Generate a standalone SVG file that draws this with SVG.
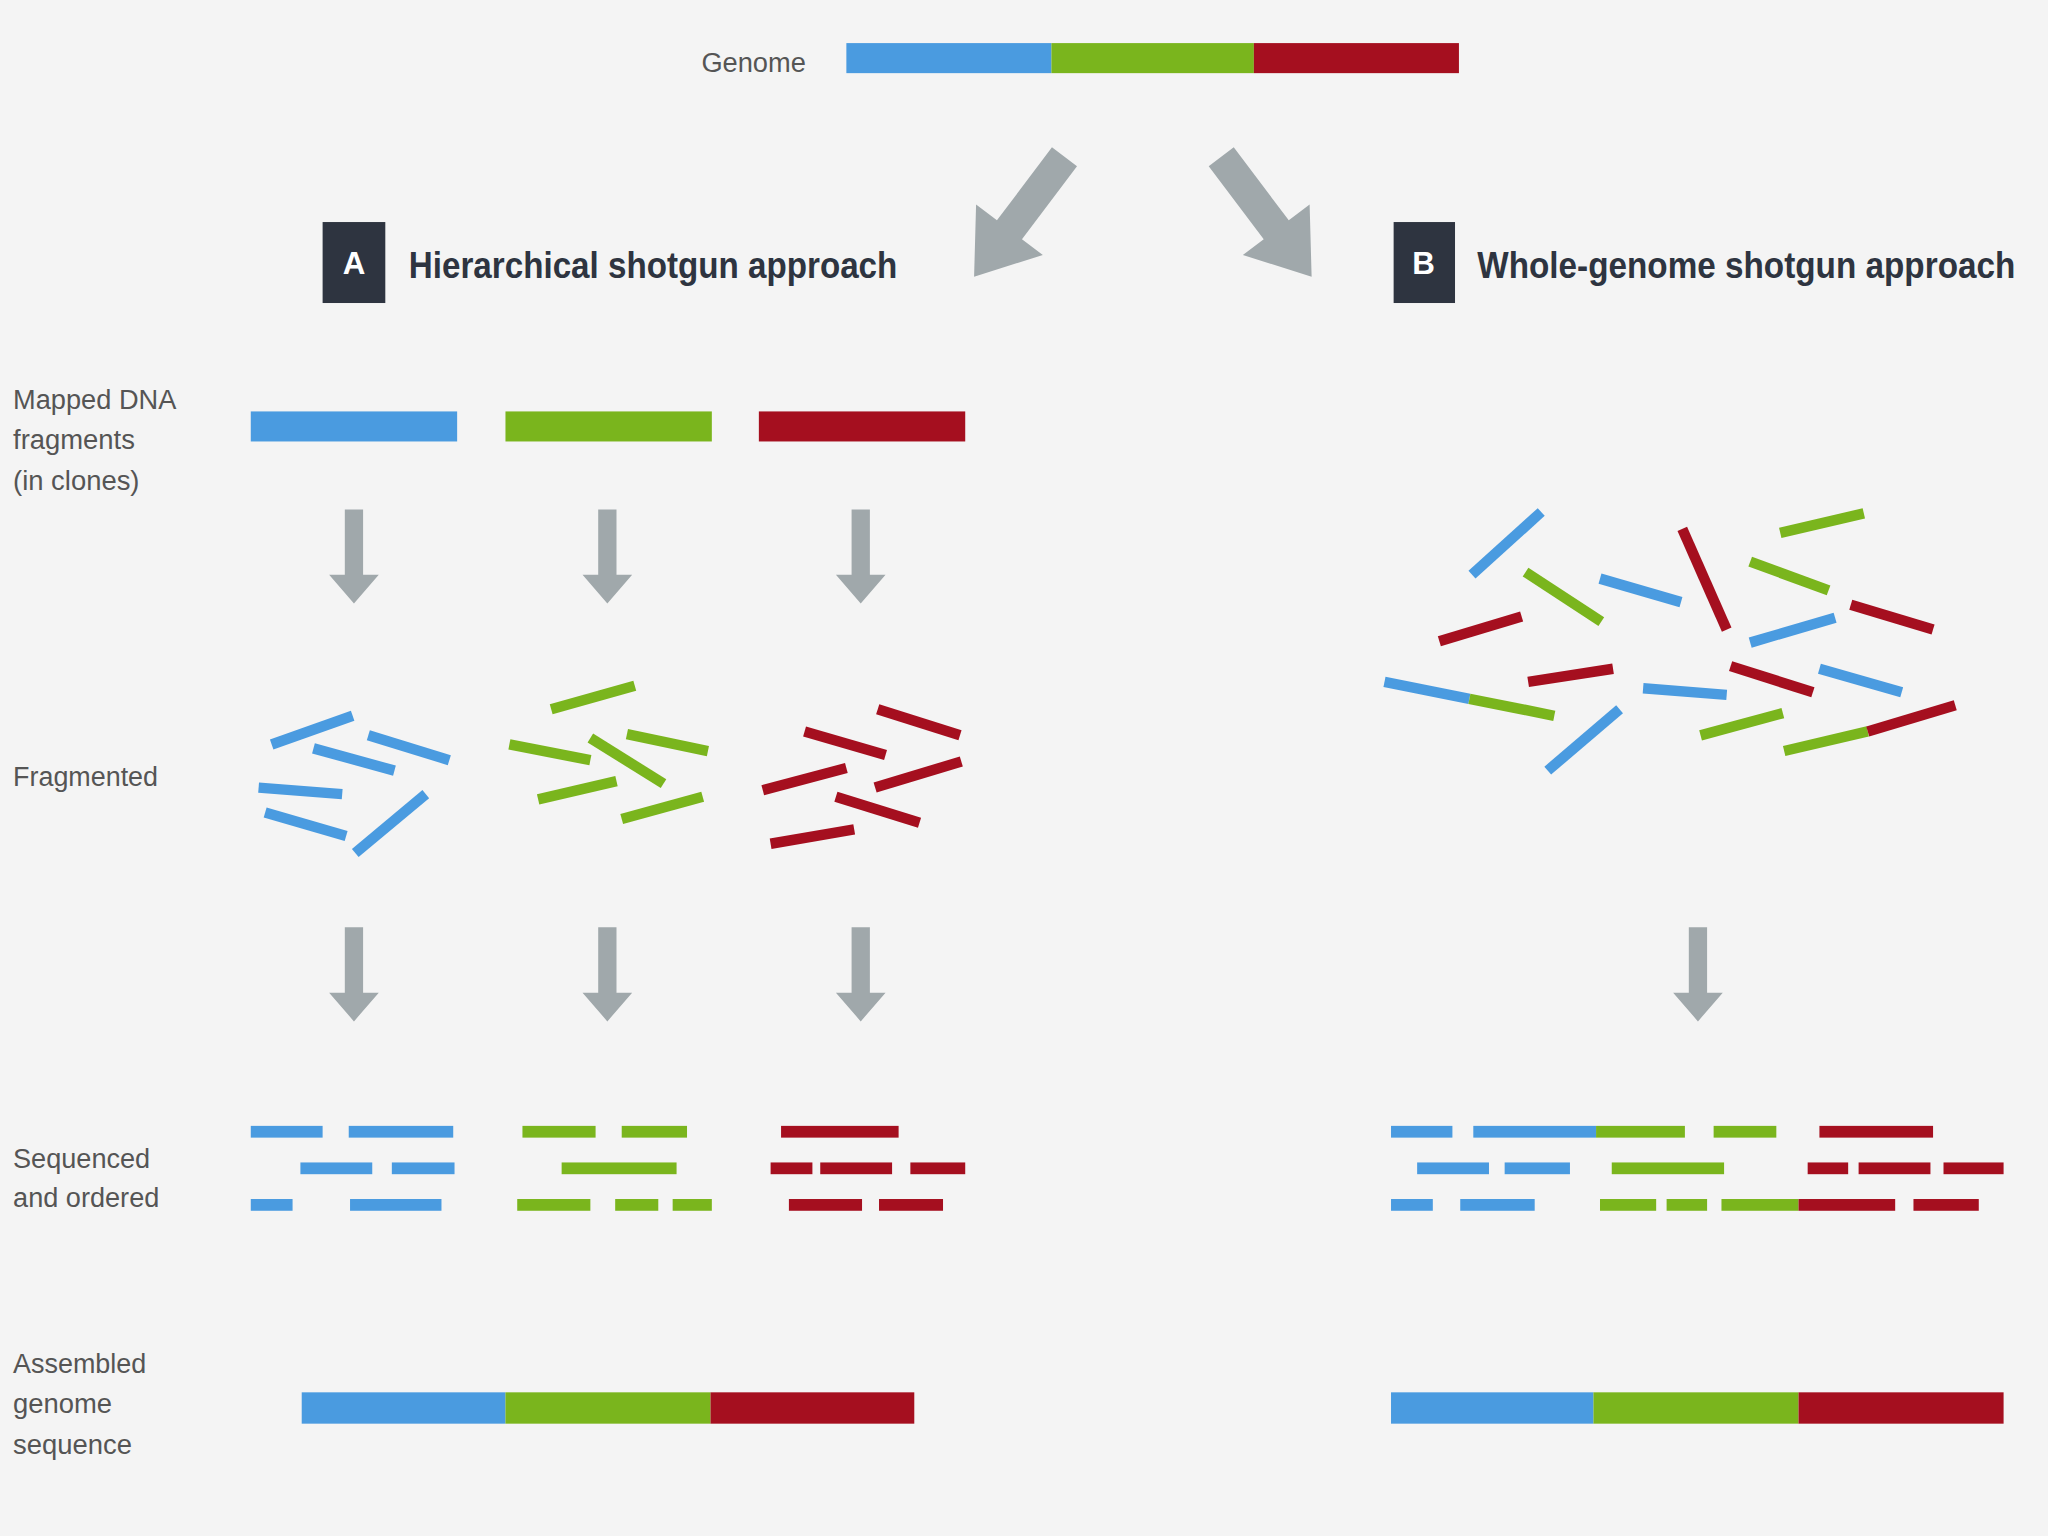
<svg xmlns="http://www.w3.org/2000/svg" width="2048" height="1536" viewBox="0 0 2048 1536">
<style>
.lbl{font-family:"Liberation Sans",Arial,sans-serif;font-size:21px;fill:#555}
.ttl{font-family:"Liberation Sans",Arial,sans-serif;font-size:28px;font-weight:bold;fill:#2e3440}
.box{fill:#2e3440}
.bt{font-family:"Liberation Sans",Arial,sans-serif;font-size:24px;font-weight:bold;fill:#fff}
.b{fill:#4a9be0}.g{fill:#7ab51d}.r{fill:#a50f1f}
.sb line{stroke:#4a9be0}.sg line{stroke:#7ab51d}.sr line{stroke:#a50f1f}
.st line{stroke-width:8}
.ar{fill:#a0a8ab}
</style>
<defs>
<path id="da" d="M-7,0 H7 V50 H19 L0,72 L-19,50 H-7 Z"/>
<path id="bigA" d="M0,-12 H70 V-32 L115,0 L70,32 V12 H0 Z"/>
</defs>
<rect width="2048" height="1536" fill="#f4f4f4"/>
<g transform="scale(1.30612)">
<g id="genome">
<text class="lbl" x="537" y="55" textLength="80" lengthAdjust="spacingAndGlyphs">Genome</text>
<rect class="b" x="648" y="33" width="157" height="23"/><rect class="g" x="805" y="33" width="155" height="23"/><rect class="r" x="960" y="33" width="157" height="23"/>
</g>
<g id="connectors">
<use href="#bigA" class="ar" transform="translate(815,120) rotate(127)"/>
<use href="#bigA" class="ar" transform="translate(935,120) rotate(53)"/>
<use href="#da" class="ar" x="271" y="390"/><use href="#da" class="ar" x="465" y="390"/><use href="#da" class="ar" x="659" y="390"/>
<use href="#da" class="ar" x="271" y="710"/><use href="#da" class="ar" x="465" y="710"/><use href="#da" class="ar" x="659" y="710"/>
<use href="#da" class="ar" x="1300" y="710"/>
</g>
<g id="titleA"><rect class="box" x="247" y="170" width="48" height="62"/><text class="bt" x="271" y="210" text-anchor="middle">A</text>
<text class="ttl" x="313" y="213" textLength="374" lengthAdjust="spacingAndGlyphs">Hierarchical shotgun approach</text></g>
<g id="titleB"><rect class="box" x="1067" y="170" width="47" height="62"/><text class="bt" x="1090" y="210" text-anchor="middle">B</text>
<text class="ttl" x="1131" y="213" textLength="412" lengthAdjust="spacingAndGlyphs">Whole-genome shotgun approach</text></g>
<g id="labels">
<text class="lbl" x="10" y="313" textLength="125" lengthAdjust="spacingAndGlyphs">Mapped DNA</text><text class="lbl" x="10" y="344">fragments</text><text class="lbl" x="10" y="375">(in clones)</text>
<text class="lbl" x="10" y="602" textLength="111" lengthAdjust="spacingAndGlyphs">Fragmented</text>
<text class="lbl" x="10" y="894" textLength="105" lengthAdjust="spacingAndGlyphs">Sequenced</text><text class="lbl" x="10" y="924" textLength="112" lengthAdjust="spacingAndGlyphs">and ordered</text>
<text class="lbl" x="10" y="1051" textLength="102" lengthAdjust="spacingAndGlyphs">Assembled</text><text class="lbl" x="10" y="1082">genome</text><text class="lbl" x="10" y="1113">sequence</text>
</g>
<g id="mapped"><rect class="b" x="192" y="315" width="158" height="23"/><rect class="g" x="387" y="315" width="158" height="23"/><rect class="r" x="581" y="315" width="158" height="23"/></g>
<g id="fragA" class="st">
<g class="sb"><line x1="208" y1="570" x2="270" y2="548"/><line x1="240" y1="573" x2="302" y2="590"/><line x1="282" y1="563" x2="344" y2="582"/><line x1="198" y1="603" x2="262" y2="608"/><line x1="203" y1="622" x2="265" y2="640"/><line x1="272" y1="653" x2="326" y2="608"/></g>
<g class="sg"><line x1="422" y1="543" x2="486" y2="525"/><line x1="390" y1="570" x2="452" y2="582"/><line x1="480" y1="562" x2="542" y2="575"/><line x1="452" y1="565" x2="508" y2="600"/><line x1="412" y1="612" x2="472" y2="598"/><line x1="476" y1="627" x2="538" y2="610"/></g>
<g class="sr"><line x1="616" y1="560" x2="678" y2="578"/><line x1="672" y1="543" x2="735" y2="563"/><line x1="584" y1="605" x2="648" y2="588"/><line x1="670" y1="603" x2="736" y2="583"/><line x1="640" y1="610" x2="704" y2="630"/><line x1="590" y1="646" x2="654" y2="635"/></g>
</g>
<g id="fragB" class="st">
<g class="sb"><line x1="1127" y1="440" x2="1180" y2="392"/><line x1="1225" y1="443" x2="1287" y2="461"/><line x1="1340" y1="492" x2="1405" y2="473"/><line x1="1060" y1="522" x2="1125" y2="535"/><line x1="1258" y1="527" x2="1322" y2="532"/><line x1="1393" y1="512" x2="1456" y2="530"/><line x1="1185" y1="590" x2="1240" y2="543"/></g>
<g class="sg"><line x1="1363" y1="408" x2="1427" y2="393"/><line x1="1168" y1="438" x2="1226" y2="476"/><line x1="1340" y1="430" x2="1400" y2="452"/><line x1="1125" y1="535" x2="1190" y2="548"/><line x1="1302" y1="563" x2="1365" y2="546"/><line x1="1366" y1="575" x2="1430" y2="560"/></g>
<g class="sr"><line x1="1288" y1="405" x2="1322" y2="482"/><line x1="1102" y1="491" x2="1165" y2="472"/><line x1="1417" y1="463" x2="1480" y2="482"/><line x1="1170" y1="522" x2="1235" y2="512"/><line x1="1325" y1="510" x2="1388" y2="530"/><line x1="1430" y1="560" x2="1497" y2="540"/></g>
</g>
<g id="seqA">
<rect class="b" x="192" y="862" width="55" height="9"/><rect class="b" x="267" y="862" width="80" height="9"/><rect class="b" x="230" y="890" width="55" height="9"/><rect class="b" x="300" y="890" width="48" height="9"/><rect class="b" x="192" y="918" width="32" height="9"/><rect class="b" x="268" y="918" width="70" height="9"/>
<rect class="g" x="400" y="862" width="56" height="9"/><rect class="g" x="476" y="862" width="50" height="9"/><rect class="g" x="430" y="890" width="88" height="9"/><rect class="g" x="396" y="918" width="56" height="9"/><rect class="g" x="471" y="918" width="33" height="9"/><rect class="g" x="515" y="918" width="30" height="9"/>
<rect class="r" x="598" y="862" width="90" height="9"/><rect class="r" x="590" y="890" width="32" height="9"/><rect class="r" x="628" y="890" width="55" height="9"/><rect class="r" x="697" y="890" width="42" height="9"/><rect class="r" x="604" y="918" width="56" height="9"/><rect class="r" x="673" y="918" width="49" height="9"/>
</g>
<g id="seqB">
<rect class="b" x="1065" y="862" width="47" height="9"/><rect class="b" x="1128" y="862" width="94" height="9"/><rect class="g" x="1222" y="862" width="68" height="9"/><rect class="g" x="1312" y="862" width="48" height="9"/><rect class="r" x="1393" y="862" width="87" height="9"/>
<rect class="b" x="1085" y="890" width="55" height="9"/><rect class="b" x="1152" y="890" width="50" height="9"/><rect class="g" x="1234" y="890" width="86" height="9"/><rect class="r" x="1384" y="890" width="31" height="9"/><rect class="r" x="1423" y="890" width="55" height="9"/><rect class="r" x="1488" y="890" width="46" height="9"/>
<rect class="b" x="1065" y="918" width="32" height="9"/><rect class="b" x="1118" y="918" width="57" height="9"/><rect class="g" x="1225" y="918" width="43" height="9"/><rect class="g" x="1276" y="918" width="31" height="9"/><rect class="g" x="1318" y="918" width="59" height="9"/><rect class="r" x="1377" y="918" width="74" height="9"/><rect class="r" x="1465" y="918" width="50" height="9"/>
</g>
<g id="assembledA"><rect class="b" x="231" y="1066" width="156" height="24"/><rect class="g" x="387" y="1066" width="157" height="24"/><rect class="r" x="544" y="1066" width="156" height="24"/></g>
<g id="assembledB"><rect class="b" x="1065" y="1066" width="155" height="24"/><rect class="g" x="1220" y="1066" width="157" height="24"/><rect class="r" x="1377" y="1066" width="157" height="24"/></g>
</g>
</svg>
